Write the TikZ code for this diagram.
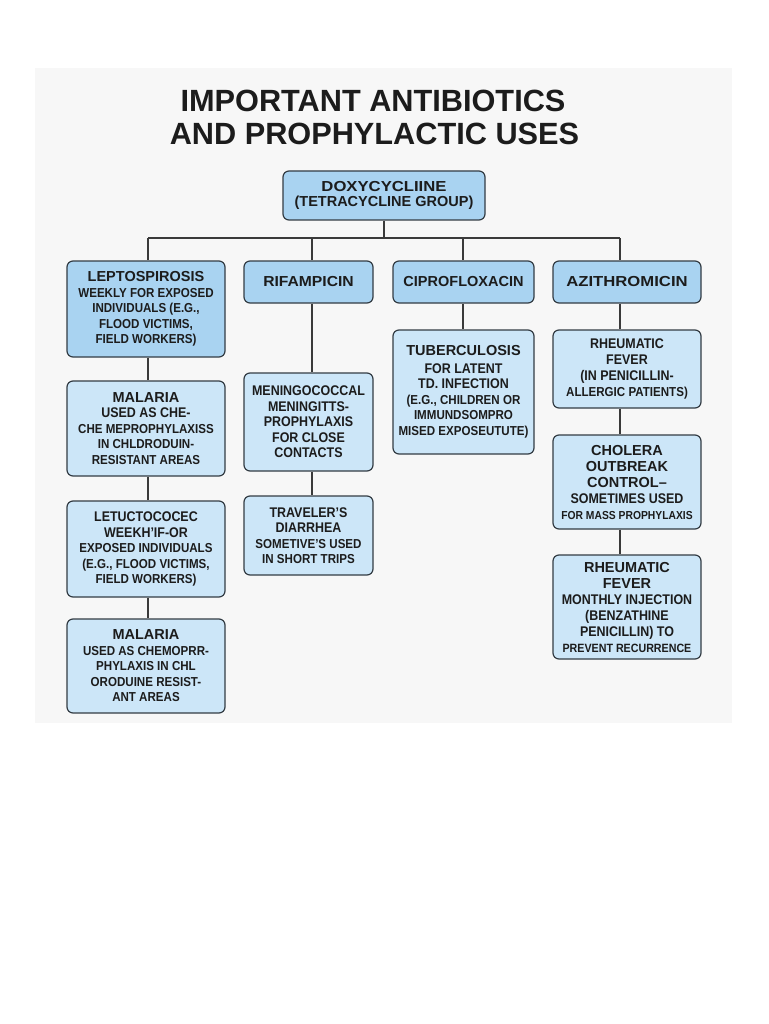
\documentclass[tikz,border=0pt]{standalone}
\usepackage{fontspec}
\setmainfont{Liberation Sans}
\newfontfamily\headf{Liberation Sans}
\newfontfamily\widef{Liberation Sans}[FakeStretch=1.15]
\newfontfamily\wideg{Liberation Sans}[FakeStretch=1.08]
\newfontfamily\bodyf{Liberation Sans}[FakeStretch=0.89]
\definecolor{pagebg}{HTML}{F7F7F7}
\definecolor{darkblue}{HTML}{A9D3F1}
\definecolor{lightblue}{HTML}{CCE6F8}
\definecolor{boxline}{HTML}{333C44}
\definecolor{connc}{HTML}{3A3A3A}
\definecolor{txt}{HTML}{1C1C1C}
\newcommand\Hd[1]{{\headf\bfseries\fontsize{14.5}{15.5}\selectfont #1}}
\newcommand\Wd[1]{{\widef\bfseries\fontsize{14.5}{15.5}\selectfont #1}}
\newcommand\Wg[1]{{\wideg\bfseries\fontsize{14.5}{15.5}\selectfont #1}}
\newcommand\Md[1]{{\bodyf\bfseries\fontsize{14}{15.5}\selectfont #1}}
\newcommand\Sm[2]{{\bodyf\bfseries\fontsize{#1}{15.5}\selectfont #2}}
\tikzset{
  boxbase/.style={draw=boxline, line width=1.2pt, rounded corners=6pt, inner sep=0pt,
    align=center, text=txt, font=\bodyf\bfseries\fontsize{13}{15.5}\selectfont},
  darkbox/.style={boxbase, fill=darkblue},
  lightbox/.style={boxbase, fill=lightblue},
  wide4/.style={font=\bodyf\bfseries\fontsize{13}{16}\selectfont},
  conn/.style={draw=connc, line width=1.1pt},
  titletxt/.style={text=txt, inner sep=0pt, anchor=base, font=\headf\bfseries\fontsize{30.7}{33}\selectfont}
}
\begin{document}
\begin{tikzpicture}[x=1pt,y=-1pt]
\useasboundingbox (0,0) rectangle (768,1024);
\fill[white] (0,0) rectangle (768,1024);
\fill[pagebg] (35,68) rectangle (732,723);

\node[titletxt] (title1) at (373,112) {IMPORTANT ANTIBIOTICS};
\node[titletxt] (title2) at (374.5,145) {AND PROPHYLACTIC USES};

% top
\node[darkbox, minimum width=202pt, minimum height=49pt] (doxy) at (384,195.5)
  {\Wd{DOXYCYCLIINE}\\\Hd{(TETRACYCLINE GROUP)}};

% level 1
\node[darkbox, minimum width=158pt, minimum height=96pt] (lep) at (146,309)
  {\Hd{LEPTOSPIROSIS}\\WEEKLY FOR EXPOSED\\INDIVIDUALS (E.G.,\\FLOOD VICTIMS,\\FIELD WORKERS)};
\node[darkbox, minimum width=129pt, minimum height=42pt] (rif) at (308.5,282) {\Wg{RIFAMPICIN}};
\node[darkbox, minimum width=141pt, minimum height=42pt] (cip) at (463.5,282) {\Hd{CIPROFLOXACIN}};
\node[darkbox, minimum width=148pt, minimum height=42pt] (azi) at (627,282) {\Wd{AZITHROMICIN}};

% column 1
\node[lightbox, minimum width=158pt, minimum height=95pt] (mal1) at (146,428.5)
  {\Hd{MALARIA}\\\Md{USED AS CHE-}\\CHE MEPROPHYLAXISS\\IN CHLDRODUIN-\\RESISTANT AREAS};
\node[lightbox, minimum width=158pt, minimum height=96pt] (letu) at (146,549)
  {\Md{LETUCTOCOCEC}\\\Md{WEEKH’IF-OR}\\EXPOSED INDIVIDUALS\\(E.G., FLOOD VICTIMS,\\FIELD WORKERS)};
\node[lightbox, minimum width=158pt, minimum height=94pt] (mal2) at (146,666)
  {\Hd{MALARIA}\\USED AS CHEMOPRR-\\PHYLAXIS IN CHL\\ORODUINE RESIST-\\ANT AREAS};

% column 2
\node[lightbox, minimum width=129pt, minimum height=98pt] (meni) at (308.5,422)
  {\Md{MENINGOCOCCAL}\\\Md{MENINGITTS-}\\\Md{PROPHYLAXIS}\\\Md{FOR CLOSE}\\\Md{CONTACTS}};
\node[lightbox, minimum width=129pt, minimum height=79pt] (trav) at (308.5,535.5)
  {\Md{TRAVELER’S}\\\Md{DIARRHEA}\\SOMETIVE’S USED\\IN SHORT TRIPS};

% column 3
\node[lightbox, minimum width=141pt, minimum height=124pt] (tb) at (463.5,392)
  {\Hd{TUBERCULOSIS}\\[2pt]\Md{FOR LATENT}\\\Md{TD. INFECTION}\\(E.G., CHILDREN OR\\IMMUNDSOMPRO\\MISED EXPOSEUTUTE)};

% column 4
\node[lightbox, wide4, minimum width=148pt, minimum height=78pt] (rh1) at (627,369)
  {\Md{RHEUMATIC}\\\Md{FEVER}\\\Md{(IN PENICILLIN-}\\ALLERGIC PATIENTS)};
\node[lightbox, wide4, minimum width=148pt, minimum height=94pt] (chol) at (627,482)
  {\Hd{CHOLERA}\\\Hd{OUTBREAK}\\\Hd{CONTROL–}\\\Md{SOMETIMES USED}\\\Sm{11.6}{FOR MASS PROPHYLAXIS}};
\node[lightbox, wide4, minimum width=148pt, minimum height=104pt] (rh2) at (627,607)
  {\Hd{RHEUMATIC}\\\Hd{FEVER}\\\Md{MONTHLY INJECTION}\\\Md{(BENZATHINE}\\\Md{PENICILLIN) TO}\\\Sm{12}{PREVENT RECURRENCE}};

% connectors
\coordinate (b1) at (148,238);
\coordinate (b2) at (312,238);
\coordinate (b3) at (463,238);
\coordinate (b4) at (620,238);
\draw[conn] (doxy.south) -- (doxy.south |- b1);
\draw[conn] (b1) -- (b4);
\draw[conn] (b1) -- (b1 |- lep.north);
\draw[conn] (b2) -- (b2 |- rif.north);
\draw[conn] (b3) -- (b3 |- cip.north);
\draw[conn] (b4) -- (b4 |- azi.north);

\draw[conn] (b1 |- lep.south) -- (b1 |- mal1.north);
\draw[conn] (b1 |- mal1.south) -- (b1 |- letu.north);
\draw[conn] (b1 |- letu.south) -- (b1 |- mal2.north);

\draw[conn] (b2 |- rif.south) -- (b2 |- meni.north);
\draw[conn] (b2 |- meni.south) -- (b2 |- trav.north);

\draw[conn] (b3 |- cip.south) -- (b3 |- tb.north);

\draw[conn] (b4 |- azi.south) -- (b4 |- rh1.north);
\draw[conn] (b4 |- rh1.south) -- (b4 |- chol.north);
\draw[conn] (b4 |- chol.south) -- (b4 |- rh2.north);
\end{tikzpicture}
\end{document}
